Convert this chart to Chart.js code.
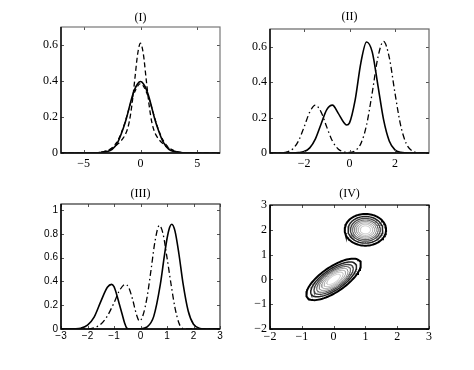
<!DOCTYPE html>
<html>
<head>
<meta charset="utf-8">
<script src="https://cdn.jsdelivr.net/npm/chart.js@4.4.1/dist/chart.umd.min.js"></script>
<style>
  html, body { margin: 0; padding: 0; background: #fff; }
  #fig { position: relative; width: 474px; height: 370px; overflow: hidden; }
  .panel { position: absolute; width: 237px; height: 185px; }
</style>
</head>
<body>
<div id="fig">
  <div class="panel" style="left:0;top:0"><canvas id="p1" width="237" height="185"></canvas></div>
  <div class="panel" style="left:237px;top:0"><canvas id="p2" width="237" height="185"></canvas></div>
  <div class="panel" style="left:0;top:185px"><canvas id="p3" width="237" height="185"></canvas></div>
  <div class="panel" style="left:237px;top:185px"><canvas id="p4" width="237" height="185"></canvas></div>
</div>
<script>
//Panel (I): three densities
const xI = [-7, -6, -5, -4, -3.5, -3, -2.5, -2, -1.5, -1.25, -1, -0.75, -0.5, -0.25, 0, 0.25, 0.5, 0.75, 1, 1.25, 1.5, 2, 2.5, 3, 3.5, 4, 5, 6, 7];
const solidI = [0, 0, 0, 0.001, 0.003, 0.007, 0.02, 0.06, 0.14, 0.19, 0.25, 0.31, 0.355, 0.385, 0.397, 0.385, 0.355, 0.31, 0.25, 0.19, 0.14, 0.06, 0.02, 0.007, 0.003, 0.001, 0, 0, 0];
const wideI = [0, 0, 0, 0.001, 0.004, 0.012, 0.03, 0.07, 0.145, 0.195, 0.25, 0.3, 0.34, 0.372, 0.385, 0.372, 0.34, 0.3, 0.25, 0.195, 0.145, 0.07, 0.03, 0.012, 0.004, 0.001, 0, 0, 0];
const peakI = [0, 0, 0, 0.001, 0.004, 0.011, 0.026, 0.05, 0.085, 0.115, 0.17, 0.27, 0.41, 0.55, 0.61, 0.55, 0.41, 0.27, 0.17, 0.115, 0.085, 0.05, 0.026, 0.011, 0.004, 0.001, 0, 0, 0];
const xTicksI = [-5, 0, 5];
const yTicksI = [0, 0.2, 0.4, 0.6];

//Panel (II): two bimodal densities
const xII = [-3.5, -3.25, -3, -2.75, -2.5, -2.25, -2, -1.75, -1.5, -1.25, -1, -0.75, -0.5, -0.25, -0.125, 0, 0.25, 0.5, 0.75, 1, 1.25, 1.5, 1.75, 2, 2.25, 2.5, 2.75, 3, 3.25, 3.5];
const solidII = [0, 0, 0, 0, 0, 0.002, 0.008, 0.029, 0.08, 0.164, 0.245, 0.27, 0.225, 0.172, 0.158, 0.17, 0.3, 0.509, 0.627, 0.571, 0.382, 0.188, 0.068, 0.018, 0.004, 0.001, 0, 0, 0, 0];
const dashII = [0, 0, 0.001, 0.006, 0.023, 0.067, 0.146, 0.231, 0.27, 0.231, 0.146, 0.067, 0.023, 0.006, 0.004, 0.003, 0.013, 0.053, 0.157, 0.34, 0.54, 0.63, 0.54, 0.34, 0.157, 0.053, 0.013, 0.002, 0, 0];
const xTicksII = [-2, 0, 2];
const yTicksII = [0, 0.2, 0.4, 0.6];

//Panel (III): solid and dash-dot curves
const xSolidIII = [-3, -2.5, -2.25, -2, -1.75, -1.5, -1.25, -1.09, -1, -0.9, -0.8, -0.7, -0.6, -0.52, -0.4, 0, 0.25, 0.5, 0.75, 0.9, 1, 1.1, 1.18, 1.3, 1.45, 1.6, 1.8, 2, 2.25, 2.5, 3];
const ySolidIII = [0, 0.002, 0.007, 0.032, 0.1, 0.23, 0.35, 0.375, 0.355, 0.29, 0.21, 0.13, 0.05, 0.008, 0, 0.002, 0.017, 0.106, 0.376, 0.614, 0.758, 0.855, 0.88, 0.824, 0.63, 0.39, 0.151, 0.04, 0.005, 0, 0];
const xDashIII = [-3, -2, -1.75, -1.5, -1.25, -1, -0.8, -0.58, -0.45, -0.3, -0.15, -0.04, 0.1, 0.25, 0.4, 0.55, 0.71, 0.85, 1, 1.15, 1.3, 1.45, 1.55, 1.7, 3];
const yDashIII = [0, 0, 0.01, 0.04, 0.11, 0.22, 0.32, 0.375, 0.35, 0.25, 0.12, 0.067, 0.12, 0.27, 0.5, 0.74, 0.87, 0.8, 0.6, 0.38, 0.18, 0.05, 0.01, 0, 0];
const xTicksIII = [-3, -2, -1, 0, 1, 2, 3];
const yTicksIII = [0, 0.2, 0.4, 0.6, 0.8, 1];

//Panel (IV): contour ellipses of two gaussians
const clusterX = [1, 0];
const clusterY = [2, 0];
const clusterA = [0.65, 1.11];
const clusterB = [0.64, 0.45];
const clusterAngle = [0, 44];
const contourScale = [1, 0.84, 0.72, 0.62, 0.53, 0.44, 0.35, 0.25];
const contourColor = ["#000", "#222", "#444", "#666", "#888", "#a0a0a0", "#b8b8b8", "#cccccc"];
const contourWidth = [2, 1.5, 1.3, 1.1, 1, 1, 1, 1];
const xTicksIV = [-2, -1, 0, 1, 2, 3];
const yTicksIV = [-2, -1, 0, 1, 2, 3];

const serif = '"Liberation Serif", "DejaVu Serif", serif';
const sans = '"Liberation Sans", Arial, sans-serif';

const pts = (xs, ys) => xs.map((x, i) => ({ x: x, y: ys[i] }));
const fmt = (v) => String(v).replace("-", "\u2212");

//points along one contour ellipse
function ellipsePts(k, s) {
  const out = [];
  const t = clusterAngle[k] * Math.PI / 180;
  const a = clusterA[k] * s, b = clusterB[k] * s;
  for (let i = 0; i <= 90; i++) {
    const u = i / 90 * 2 * Math.PI;
    const ex = a * Math.cos(u), ey = b * Math.sin(u);
    out.push({ x: clusterX[k] + ex * Math.cos(t) - ey * Math.sin(t), y: clusterY[k] + ex * Math.sin(t) + ey * Math.cos(t) });
  }
  return out;
}

//box, inner tick marks and title like matlab
const boxPlugin = {
  id: "matlabBox",
  afterDraw(chart, args, opts) {
    const ctx = chart.ctx;
    const a = chart.chartArea;
    const xs = chart.scales.x, ys = chart.scales.y;
    ctx.save();
    ctx.strokeStyle = "#555";
    ctx.lineWidth = 1;
    xs.ticks.forEach((t) => {
      const px = Math.round(xs.getPixelForValue(t.value)) + 0.5;
      ctx.beginPath();
      ctx.moveTo(px, a.bottom); ctx.lineTo(px, a.bottom - 3);
      ctx.moveTo(px, a.top); ctx.lineTo(px, a.top + 3);
      ctx.stroke();
    });
    ys.ticks.forEach((t) => {
      const py = Math.round(ys.getPixelForValue(t.value)) + 0.5;
      ctx.beginPath();
      ctx.moveTo(a.left, py); ctx.lineTo(a.left + 3, py);
      ctx.moveTo(a.right, py); ctx.lineTo(a.right - 3, py);
      ctx.stroke();
    });
    ctx.strokeStyle = opts.boxColor || "#444";
    ctx.lineWidth = 1.2;
    ctx.strokeRect(a.left, a.top, a.right - a.left, a.bottom - a.top);
    ctx.strokeStyle = "#000";
    ctx.lineWidth = 1.4;
    ctx.beginPath();
    ctx.moveTo(a.left, a.top); ctx.lineTo(a.left, a.bottom); ctx.lineTo(a.right, a.bottom);
    ctx.stroke();
    ctx.fillStyle = "#000";
    ctx.font = "12px " + serif;
    ctx.textAlign = "center";
    ctx.textBaseline = "middle";
    ctx.fillText(opts.text, (a.left + a.right) / 2, a.top - opts.gap);
    ctx.restore();
  },
};

function makePanel(id, datasets, p) {
  return new Chart(document.getElementById(id), {
    type: "scatter",
    data: { datasets: datasets },
    plugins: [boxPlugin],
    options: {
      responsive: false,
      animation: false,
      layout: { autoPadding: false, padding: { left: 0, top: p.top, right: p.right, bottom: 0 } },
      elements: { point: { radius: 0 } },
      plugins: {
        legend: { display: false },
        tooltip: { enabled: false },
        matlabBox: { text: p.title, gap: p.gap, boxColor: p.boxColor },
      },
      scales: {
        x: {
          type: "linear",
          min: p.xMin,
          max: p.xMax,
          grid: { display: false, drawTicks: false },
          border: { display: false },
          afterBuildTicks: (s) => { s.ticks = p.xTicks.map((v) => ({ value: v })); },
          afterFit: (s) => { s.height = p.xH; },
          ticks: { padding: p.xPad, color: "#000", font: p.font, callback: fmt, maxRotation: 0, autoSkip: false },
        },
        y: {
          type: "linear",
          min: p.yMin,
          max: p.yMax,
          grid: { display: false, drawTicks: false },
          border: { display: false },
          afterBuildTicks: (s) => { s.ticks = p.yTicks.map((v) => ({ value: v })); },
          afterFit: (s) => { s.width = p.yW; },
          ticks: { padding: 3, color: "#000", font: p.font, callback: fmt, autoSkip: false },
        },
      },
    },
  });
}

const line = (data, dash, width) => ({
  data: data,
  showLine: true,
  borderColor: "#000",
  borderWidth: width || 1.5,
  borderDash: dash || [],
  cubicInterpolationMode: "monotone",
  pointRadius: 0,
});

const serifFont = { family: serif, size: 12 };
const sansFont = { family: sans, size: 10 };

makePanel("p1", [
  line(pts(xI, wideI), [4, 3], 1.2),
  line(pts(xI, peakI), [5, 3], 1.3),
  line(pts(xI, solidI), [], 1.6),
], { title: "(I)", gap: 9, top: 27, right: 17, yW: 61, xH: 32, xPad: 4, xMin: -7, xMax: 7, yMin: 0, yMax: 0.7, xTicks: xTicksI, yTicks: yTicksI, font: serifFont, boxColor: "#777" });

makePanel("p2", [
  line(pts(xII, dashII), [6, 3, 1.5, 3], 1.3),
  line(pts(xII, solidII), [], 1.6),
], { title: "(II)", gap: 12, top: 29, right: 45, yW: 33, xH: 32, xPad: 4, xMin: -3.5, xMax: 3.5, yMin: 0, yMax: 0.7, xTicks: xTicksII, yTicks: yTicksII, font: serifFont, boxColor: "#666" });

makePanel("p3", [
  line(pts(xDashIII, yDashIII), [6, 3, 1.5, 3], 1.3),
  line(pts(xSolidIII, ySolidIII), [], 1.6),
], { title: "(III)", gap: 10, top: 19, right: 17, yW: 61, xH: 41, xPad: 1, xMin: -3, xMax: 3, yMin: 0, yMax: 1.05, xTicks: xTicksIII, yTicks: yTicksIII, font: sansFont, boxColor: "#333" });

//one dataset per contour line
const contours = [];
for (let k = 0; k < clusterX.length; k++) {
  contourScale.forEach((s, i) => {
    contours.push({
      data: ellipsePts(k, s),
      showLine: true,
      borderColor: contourColor[i],
      borderWidth: contourWidth[i],
      pointRadius: 0,
    });
  });
}
makePanel("p4", contours, { title: "(IV)", gap: 11, top: 20, right: 45, yW: 33, xH: 41, xPad: 1, xMin: -2, xMax: 3, yMin: -2, yMax: 3, xTicks: xTicksIV, yTicks: yTicksIV, font: serifFont, boxColor: "#000" });
</script>
</body>
</html>
